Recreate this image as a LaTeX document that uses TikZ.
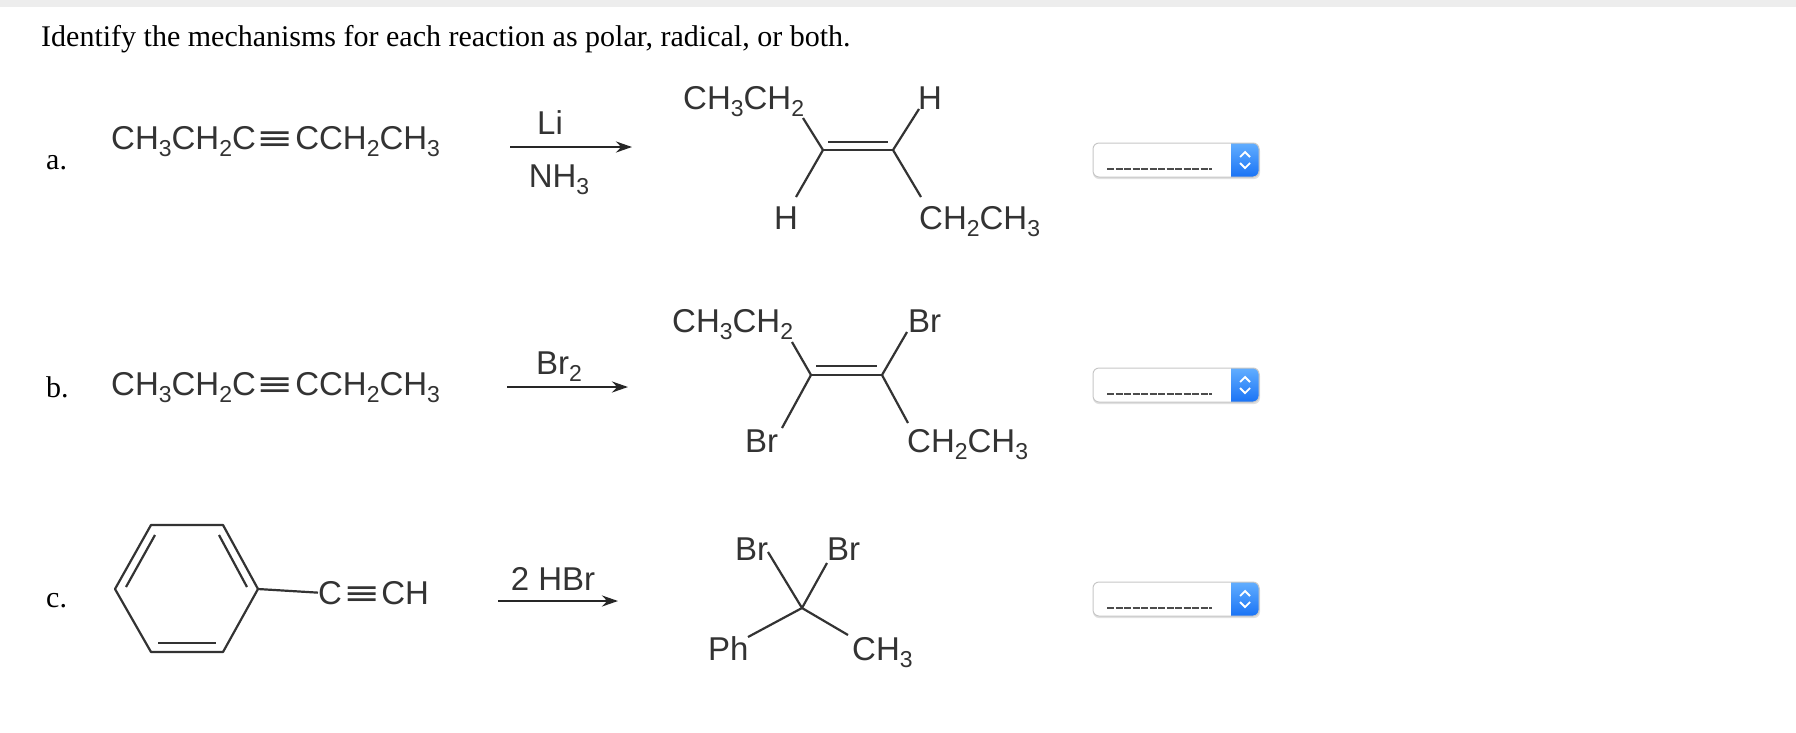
\documentclass[tikz,border=0pt]{standalone}
\usepackage{fontspec}
\setmainfont{Liberation Serif}
\newfontfamily\chemfont{Liberation Sans}
\newfontfamily\symfont{DejaVu Sans}
\usetikzlibrary{arrows.meta}
\newcommand\dn[1]{\raisebox{-0.22em}{\fontsize{23}{23}\selectfont #1}}
\newcommand\tb{\hspace{1pt}{\symfont\scalebox{1.35}[1]{≡}}\hspace{1pt}}
\definecolor{ink}{HTML}{333333}
\definecolor{bluetop}{HTML}{62AEFF}
\definecolor{bluebot}{HTML}{1A73F5}
\begin{document}
\begin{tikzpicture}[x=1pt,y=-1pt,
  chem/.style={inner sep=0pt,font=\chemfont\fontsize{33}{33}\selectfont,text=ink},
  lab/.style={inner sep=0pt,font=\fontsize{30}{30}\selectfont,text=black},
  bond/.style={line width=2.2pt,draw=ink},
  rxn/.style={line width=2.6pt,draw=black!85,-{Stealth[length=16pt,width=11pt]}}]
\useasboundingbox (0,0) rectangle (1796,732);
\fill[white] (0,0) rectangle (1796,732);
\fill[black!7] (0,0) rectangle (1796,7);
\node[lab,anchor=base west] (title) at (41,46) {Identify the mechanisms for each reaction as polar, radical, or both.};
\node[lab,anchor=base west] (la) at (46,169) {a.};
\node[lab,anchor=base west] (lb) at (46,397) {b.};
\node[lab,anchor=base west] (lc) at (46,607) {c.};
% reaction a
\node[chem,anchor=base west] (ra) at (111,149) {CH\dn{3}CH\dn{2}C\tb CCH\dn{2}CH\dn{3}};
\coordinate (a1) at (510,147); \coordinate (a2) at (632,147);
\draw[rxn] (a1) -- (a2);
\node[chem,anchor=base] (li) at (550,134) {Li};
\node[chem,anchor=base] (nh) at (559,187) {NH\dn{3}};
\node[chem,anchor=base west] (pa1) at (683,109) {CH\dn{3}CH\dn{2}};
\node[chem,anchor=base] (pa2) at (930,109) {H};
\node[chem,anchor=base] (pa3) at (786,229) {H};
\node[chem,anchor=base west] (pa4) at (919,229) {CH\dn{2}CH\dn{3}};
\coordinate (ac1) at (823,150); \coordinate (ac2) at (893,150);
\draw[bond] (ac1) -- (ac2);
\draw[bond] ([shift={(5,-8)}]ac1) -- ([shift={(-5,-8)}]ac2);
\draw[bond] (ac1) -- (803,118);
\draw[bond] (ac2) -- (919,109);
\draw[bond] (ac1) -- (796,197);
\draw[bond] (ac2) -- (921,197);
% reaction b
\node[chem,anchor=base west] (rb) at (111,395) {CH\dn{3}CH\dn{2}C\tb CCH\dn{2}CH\dn{3}};
\coordinate (b1) at (507,387); \coordinate (b2) at (628,387);
\draw[rxn] (b1) -- (b2);
\node[chem,anchor=base] (br2) at (559,374) {Br\dn{2}};
\node[chem,anchor=base west] (pb1) at (672,332) {CH\dn{3}CH\dn{2}};
\node[chem,anchor=base west] (pb2) at (908,332) {Br};
\node[chem,anchor=base west] (pb3) at (745,452) {Br};
\node[chem,anchor=base west] (pb4) at (907,452) {CH\dn{2}CH\dn{3}};
\coordinate (bc1) at (811,375); \coordinate (bc2) at (882,375);
\draw[bond] (bc1) -- (bc2);
\draw[bond] ([shift={(5,-9)}]bc1) -- ([shift={(-5,-9)}]bc2);
\draw[bond] (bc1) -- (792,342);
\draw[bond] (bc2) -- (907,332);
\draw[bond] (bc1) -- (782,428);
\draw[bond] (bc2) -- (908,423);
% reaction c
\coordinate (h1) at (151,525); \coordinate (h2) at (223,525); \coordinate (h3) at (258,589);
\coordinate (h4) at (223,652); \coordinate (h5) at (151,652); \coordinate (h6) at (115,589);
\draw[bond,line join=round] (h1) -- (h2) -- (h3) -- (h4) -- (h5) -- (h6) -- cycle;
\draw[bond] (155,535) -- (126,587);
\draw[bond] (219,535) -- (247,587);
\draw[bond] (158,643) -- (216,643);
\node[chem,anchor=base west] (alk) at (318,604) {C\tb CH};
\draw[bond] (h3) -- (alk.west);
\coordinate (c1) at (498,601); \coordinate (c2) at (618,601);
\draw[rxn] (c1) -- (c2);
\node[chem,anchor=base] (hbr) at (553,590) {2 HBr};
\node[chem,anchor=base west] (pc1) at (735,560) {Br};
\node[chem,anchor=base west] (pc2) at (827,560) {Br};
\node[chem,anchor=base west] (pc3) at (708,660) {Ph};
\node[chem,anchor=base west] (pc4) at (852,660) {CH\dn{3}};
\coordinate (cc) at (802,608);
\draw[bond] (cc) -- (768,552);
\draw[bond] (cc) -- (827,563);
\draw[bond] (cc) -- (748,637);
\draw[bond] (cc) -- (848,635);
% select boxes
\foreach \t/\nm in {143/sa,368/sb,582/sc}{
  \fill[black!12,rounded corners=6pt] (1093,\t+2) rectangle (1260,\t+36);
  \begin{scope}
    \clip[rounded corners=6pt] (1093,\t) rectangle (1259,\t+34);
    \fill[white] (1093,\t) rectangle (1259,\t+34);
    \shade[top color=bluetop,bottom color=bluebot] (1231,\t) rectangle (1259,\t+34);
  \end{scope}
  \draw[black!22,line width=1pt,rounded corners=6pt] (1093,\t) rectangle (1259,\t+34);
  \draw[black!70,line width=1.4pt,dash pattern=on 7pt off 1.5pt] (1107,\t+26) -- (1212,\t+26);
  \draw[white,line width=1.8pt] (1240,\t+14) -- (1245,\t+9) -- (1250,\t+14);
  \draw[white,line width=1.8pt] (1240,\t+20) -- (1245,\t+25) -- (1250,\t+20);
  \node[inner sep=0pt] (\nm) at (1176,\t+17) {};
}
\end{tikzpicture}
\end{document}
